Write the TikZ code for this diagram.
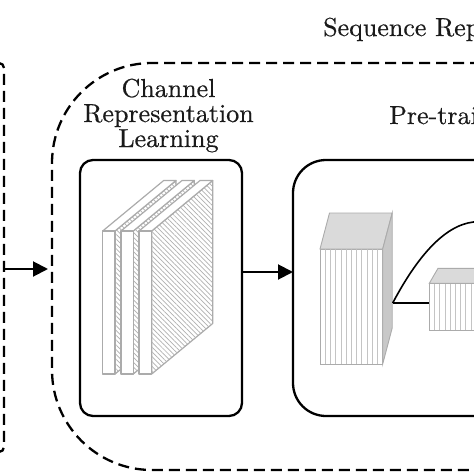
\documentclass[tikz,border=0pt]{standalone}
\usepackage{fontspec}
\newfontfamily\lmten{lmroman10-regular}[Extension=.otf,FakeBold=0.5]
\usetikzlibrary{arrows.meta,patterns.meta,calc}
\definecolor{ln}{HTML}{ABABAB}
\definecolor{hatch}{HTML}{B0B0B0}
\definecolor{topgray}{HTML}{DADADA}
\definecolor{sidegray}{HTML}{C8C8C8}
\definecolor{vline}{HTML}{C4C4C4}
\definecolor{txt}{HTML}{1A1A1A}
\begin{document}
\begin{tikzpicture}[x=1pt,y=-1pt,
  dashbox/.style={draw, dash pattern=on 11pt off 6pt, line width=2.3pt, inner sep=0pt, outer sep=0pt},
  solidbox/.style={draw, line width=2.3pt, inner sep=0pt, outer sep=0pt},
  arr/.style={line width=2pt, -{Triangle[length=15pt,width=15pt]}},
  ttl/.style={inner sep=0pt, font=\lmten\fontsize{26}{25}\selectfont, text=txt},
  slab/.style={draw=ln, line width=1.2pt, line join=round},
  cub/.style={draw=ln, line width=0.9pt},
  vl/.style={draw=vline, line width=0.8pt},
  conn/.style={line width=1.6pt}
]
\useasboundingbox (0,0) rectangle (474,474);
\clip (0,0) rectangle (474,474);

% outer boxes
\node[dashbox, rounded corners=5pt, minimum width=104pt, minimum height=389pt] (lbox) at (-48,257.5) {};
\node[dashbox, rounded corners=100pt, minimum width=648pt, minimum height=407pt] (seq) at (376,266.5) {};
\node[solidbox, rounded corners=13pt, minimum width=162pt, minimum height=256pt] (chbox) at (161,288) {};
\node[solidbox, rounded corners=33pt, minimum width=267pt, minimum height=256pt] (ptbox) at (426.5,288) {};

% titles
\node[ttl, anchor=base west] (seqt) at (323,36) {Sequence Rep};
\node[ttl, anchor=base] (ch1) at (168.5,97) {Channel};
\node[ttl, anchor=base] (ch2) at (168.5,122) {Representation};
\node[ttl, anchor=base] (ch3) at (168.5,147) {Learning};
\node[ttl, anchor=base west] (ptt) at (389,124) {Pre-trai};

% arrows
\coordinate (a1) at (0,269);
\coordinate (a2) at (0,272);
\draw[arr, shorten >=4pt] (lbox.east |- a1) -- (seq.west |- a1);
\draw[arr] (chbox.east |- a2) -- (ptbox.west |- a2);

% slabs
\foreach \xl/\xr in {102.7/115,121/133.3,139/151.7}{
  \filldraw[slab, fill=white, postaction={pattern={Lines[angle=-45,distance=3.4pt,line width=0.7pt]}, pattern color=hatch}]
    (\xr,231) -- (\xr+61,180.5) -- (\xr+61,323.5) -- (\xr,374) -- cycle;
  \filldraw[slab, fill=white] (\xl,231) -- (\xl+61,180.5) -- (\xr+61,180.5) -- (\xr,231) -- cycle;
  \filldraw[slab, fill=white] (\xl,231) rectangle (\xr,374);
}

% big cuboid
\filldraw[cub, fill=white] (320,249) rectangle (382.7,364);
\foreach \i in {1,...,11}{ \draw[vl] (320+\i*5.225,249) -- (320+\i*5.225,364); }
\filldraw[cub, fill=topgray] (320,249) -- (329.5,213) -- (392.2,213) -- (382.7,249) -- cycle;
\filldraw[cub, fill=sidegray] (382.7,249) -- (392.2,213) -- (392.2,328) -- (382.7,364) -- cycle;

% small cuboid
\filldraw[cub, fill=white] (429.3,283.3) rectangle (520,330);
\foreach \i in {1,...,17}{ \draw[vl] (429.3+\i*5.2,283.3) -- (429.3+\i*5.2,330); }
\filldraw[cub, fill=topgray] (429.3,283.3) -- (438,268.3) -- (528.7,268.3) -- (520,283.3) -- cycle;

% connectors inside
\coordinate (cs) at (392.7,303);
\coordinate (cb) at (429.3,303);
\coordinate (ce) at (564.5,303);
\draw[conn] (cs) -- (cb);
\draw[conn] (cs) .. controls (450.2,194.6) and (507.3,194.6) .. (ce);
\end{tikzpicture}
\end{document}
